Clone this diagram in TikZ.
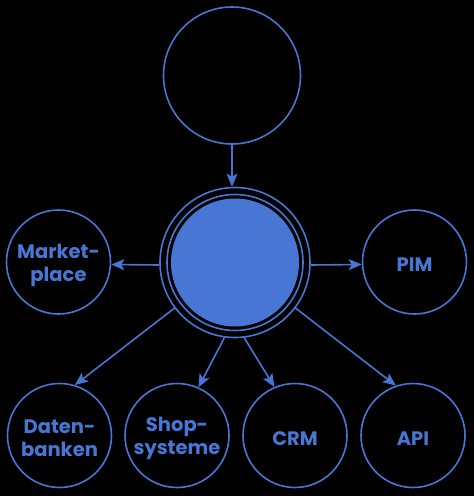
\documentclass[tikz,border=0pt]{standalone}
\usepackage{fontspec}
\setmainfont{Poppins}
\usetikzlibrary{arrows.meta}
\definecolor{blu}{RGB}{72,118,212}
\begin{document}
\begin{tikzpicture}[x=1pt,y=-1pt,
  circ/.style={circle,draw=blu,line width=1.6pt,minimum size=104pt,inner sep=0pt},
  txt/.style={text=blu,font=\bfseries\fontsize{19.5}{23}\selectfont,align=center,inner sep=0pt,yshift=-3pt},
  ring/.style={circle,draw=blu,line width=1.6pt,inner sep=0pt},
  arr/.style={draw=blu,line width=1.6pt,-{Stealth[length=13pt,width=11pt,inset=3pt]}}]
\fill[black] (0,0) rectangle (474,496);
\useasboundingbox (0,0) rectangle (474,496);
\node[circ,minimum size=137pt] (top) at (232,75.5) {};
\coordinate (c) at (235,262.5);
\node[ring,minimum size=150pt] (hub) at (c) {};
\node[ring,minimum size=136pt] (hubin) at (c) {};
\node[circle,fill=blu,inner sep=0pt,minimum size=128pt] (hubfill) at (c) {};
\node[circ] (mk) at (58.5,262) {};
\node[circ] (pim) at (414.5,262) {};
\node[circ] (db) at (59.5,435.5) {};
\node[circ] (shop) at (177,435.5) {};
\node[circ] (crm) at (295,435.5) {};
\node[circ] (api) at (413,435.5) {};
\node[txt] (mkt) at (mk) {Market-\\place};
\node[txt] (pimt) at (pim) {PIM};
\node[txt] (dbt) at (db) {Daten-\\banken};
\node[txt] (shopt) at (shop) {Shop-\\systeme};
\node[txt] (crmt) at (crm) {CRM};
\node[txt] (apit) at (api) {API};
\draw[arr] (top.south) -- (top.south |- hub.north);
\draw[arr] ([yshift=-2.5pt]hub.west) -- ([yshift=-2.5pt]mk.east);
\draw[arr] ([yshift=-2.5pt]hub.east) -- ([yshift=-2.5pt]pim.west);
\draw[arr] (hub.217) -- (db.73);
\draw[arr] (hub.262.5) -- (shop.66.5);
\draw[arr] (hub.277) -- (crm.113.5);
\draw[arr] (hub.323) -- (api.109);
\end{tikzpicture}
\end{document}
